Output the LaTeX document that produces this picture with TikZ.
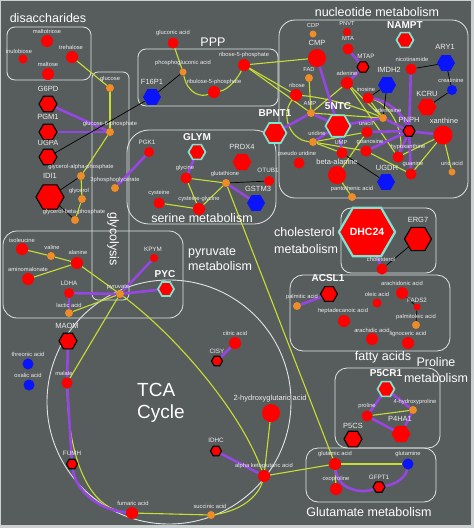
\documentclass[tikz,border=0pt]{standalone}
\usepackage{fontspec}
\setmainfont{Liberation Sans}
\usetikzlibrary{shapes.geometric}
\pgfdeclarelayer{bg}
\pgfdeclarelayer{edges}
\pgfsetlayers{bg,edges,main}
\definecolor{bgdark}{RGB}{87,92,92}
\definecolor{framegrey}{RGB}{205,208,208}
\definecolor{nred}{RGB}{255,0,0}
\definecolor{norange}{RGB}{238,140,40}
\definecolor{nblue}{RGB}{10,20,250}
\definecolor{eyel}{RGB}{200,222,50}
\definecolor{epur}{RGB}{150,70,225}
\definecolor{ncyan}{RGB}{125,230,210}
\definecolor{boxc}{RGB}{225,228,228}
\definecolor{txt}{RGB}{238,238,238}
\tikzset{
  rc/.style={circle, fill=nred, inner sep=0pt, minimum size=#1}, rc/.default=11,
  oc/.style={circle, fill=norange, inner sep=0pt, minimum size=#1}, oc/.default=8,
  bc/.style={circle, fill=nblue, inner sep=0pt, minimum size=#1}, bc/.default=11,
  hx/.style={regular polygon, regular polygon sides=6, inner sep=0pt, minimum size=#1},
  hred/.style={hx=#1, fill=nred},
  hblk/.style={hx=#1, fill=nred, draw=black, line width=1.1pt},
  hcy/.style={hx=#1, fill=nred, draw=ncyan, line width=1.7pt},
  hblu/.style={hx=#1, fill=nblue},
  sl/.style={text=txt, inner sep=0pt, font=\fontsize{5.8}{6}\selectfont},
  el/.style={text=txt, inner sep=0pt, font=\fontsize{6.3}{7}\selectfont},
  ml/.style={text=txt, inner sep=0pt, font=\fontsize{7.5}{8}\selectfont},
  bl/.style={text=white, inner sep=0pt, font=\bfseries\fontsize{10}{11}\selectfont},
  rl/.style={text=white, inner sep=0pt, font=\fontsize{12.5}{15.5}\selectfont},
  regbox/.style={draw=boxc, line width=0.8pt, rounded corners=#1},
  ye/.style={draw=eyel, line width=1.1pt},
  pu/.style={draw=epur, line width=2.6pt},
  bk/.style={draw=black, line width=0.7pt},
}
\begin{document}
\begin{tikzpicture}[x=1pt,y=-1pt]
\useasboundingbox (0,0) rectangle (474,528);
\begin{pgfonlayer}{bg}
\fill[framegrey] (0,0) rectangle (474,528);
\fill[bgdark] (1,1) rectangle (471,525);
\draw[regbox=8pt] (7,27) rectangle (91,80);
\draw[regbox=6pt] (92,72) rectangle (129,300);
\draw[regbox=8pt] (138,49) rectangle (278,106);
\draw[regbox=16pt] (279,20) rectangle (468,198);
\draw[regbox=22pt] (127,130) rectangle (276,224);
\draw[regbox=14pt] (3,231) rectangle (183,318);
\draw[regbox=10pt] (341,208) rectangle (436,273);
\draw[regbox=13pt] (290,275) rectangle (450,351);
\draw[regbox=12pt] (335,368) rectangle (440,448);
\draw[regbox=12pt] (306,448) rectangle (436,502);
\draw[draw=boxc, line width=0.9pt] (169,402) circle[radius=122pt];
\end{pgfonlayer}

% disaccharides
\node[rl] (l-disacch) at (48,18) {disaccharides};
\node[rc=12] (maltotriose) at (47,41) {};
\node[sl] (l-maltotriose) at (47,31) {maltotriose};
\node[rc=9] (inulobiose) at (23,59) {};
\node[sl] (l-inulobiose) at (19,51) {inulobiose};
\node[rc=12] (trehalose) at (72,57) {};
\node[sl] (l-trehalose) at (71,47) {trehalose};
\node[rc=12] (maltose) at (48,74) {};
\node[sl] (l-maltose) at (48,64) {maltose};

% glycolysis
\node[oc] (glucose) at (110,88) {};
\node[sl] (l-glucose) at (110,79) {glucose};
\node[oc] (gsix) at (110,132) {};
\node[sl] (l-gsix) at (110,124) {glucose-6-phosphate};
\node[hblk=18] (gsixpd) at (48,104) {};
\node[ml] (l-gsixpd) at (48,89) {G6PD};
\node[hblk=18] (pgmone) at (48,132) {};
\node[ml] (l-pgmone) at (48,117) {PGM1};
\node[hblk=18] (ugpa) at (48,157) {};
\node[ml] (l-ugpa) at (48,143) {UGPA};
\node[hblk=28] (idione) at (50,197) {};
\node[ml] (l-idione) at (50,176) {IDI1};
\node[oc] (gap) at (81,176) {};
\node[sl] (l-gap) at (81,167) {glycerol-alpha-phosphate};
\node[oc] (glycerol) at (82,199) {};
\node[sl] (l-glycerol) at (79,191) {glycerol};
\node[oc] (gbp) at (75,220) {};
\node[sl] (l-gbp) at (74,212) {glycerol-beta-phosphate};
\node[oc] (tpg) at (115,188) {};
\node[sl] (l-tpg) at (115,180) {3phosphoglycerate};
\node[rc=10] (pgkone) at (149,152) {};
\node[el] (l-pgkone) at (147,142) {PGK1};
\node[rl, rotate=-90] (l-glycolysis) at (113,239) {glycolysis};

% PPP
\node[rl] (l-ppp) at (213,42) {PPP};
\node[rc=11] (gluconic) at (173,43) {};
\node[sl] (l-gluconic) at (173,33) {gluconic acid};
\node[oc=7] (pgluc) at (183,72) {};
\node[sl] (l-pgluc) at (183,63) {phosphogluconic acid};
\node[hblu=18] (fonesix) at (152,97) {};
\node[ml] (l-fonesix) at (152,82) {F16P1};
\node[rc=12] (ribulose) at (214,92) {};
\node[sl] (l-ribulose) at (214,82) {ribulose-5-phosphate};
\node[rc=12] (rfivep) at (244,65) {};
\node[sl] (l-rfivep) at (244,55) {ribose-5-phosphate};

% serine
\node[hcy=17] (glym) at (197,152) {};
\node[bl] (l-glym) at (197,137) {GLYM};
\node[hred=19] (prdx) at (242,162) {};
\node[ml] (l-prdx) at (242,147) {PRDX4};
\node[rc=11] (glycine) at (186,178) {};
\node[sl] (l-glycine) at (185,168) {glycine};
\node[oc] (gsh) at (226,183) {};
\node[sl] (l-gsh) at (225,174) {glutathione};
\node[rc=10] (otub) at (269,181) {};
\node[el] (l-otub) at (268,170) {OTUB1};
\node[hblu=18] (gstm) at (256,203) {};
\node[ml] (l-gstm) at (258,189) {GSTM3};
\node[rc=11] (cysteine) at (159,203) {};
\node[sl] (l-cysteine) at (159,193) {cysteine};
\node[rc=12] (cysgly) at (199,209) {};
\node[sl] (l-cysgly) at (199,199) {cysteine-glycine};
\node[rl] (l-serine) at (202,218) {serine metabolism};

% nucleotide
\node[rl] (l-nucleo) at (377,12) {nucleotide metabolism};
\node[oc=7] (cdp) at (313,34) {};
\node[sl] (l-cdp) at (313,26) {CDP};
\node[rc=8] (pnvt) at (347,32) {};
\node[sl] (l-pnvt) at (347,24) {PNVT};
\node[rc=11] (mta) at (348,49) {};
\node[sl] (l-mta) at (348,39) {MTA};
\node[rc=18] (cmp) at (317,58) {};
\node[ml] (l-cmp) at (317,43) {CMP};
\node[hcy=17] (nampt) at (405,40) {};
\node[bl] (l-nampt) at (405,25) {NAMPT};
\node[hblk=12] (mtap) at (363,67) {};
\node[el] (l-mtap) at (366,56) {MTAP};
\node[hblu=18] (aryone) at (446,63) {};
\node[ml] (l-aryone) at (445,47) {ARY1};
\node[rc=11] (nicotin) at (411,69) {};
\node[sl] (l-nicotin) at (412,59) {nicotinamide};
\node[oc] (fad) at (309,78) {};
\node[sl] (l-fad) at (309,70) {FAD};
\node[rc=12] (adenine) at (347,83) {};
\node[sl] (l-adenine) at (347,73) {adenine};
\node[hblu=18] (imdh) at (387,85) {};
\node[ml] (l-imdh) at (389,70) {IMDH2};
\node[bc=10] (creat) at (452,90) {};
\node[sl] (l-creat) at (451,80) {creatinine};
\node[rc=12] (ribose) at (296,95) {};
\node[sl] (l-ribose) at (297,85) {ribose};
\node[rc=11] (inosine) at (368,98) {};
\node[sl] (l-inosine) at (366,89) {inosine};
\node[hred=19] (kcru) at (427,107) {};
\node[ml] (l-kcru) at (427,94) {KCRU};
\node[oc] (amp) at (311,113) {};
\node[sl] (l-amp) at (310,104) {AMP};
\node[hcy=25] (fntc) at (338,126) {};
\node[bl] (l-fntc) at (338,106) {5NTC};
\node[oc] (adenosine) at (383,118) {};
\node[sl] (l-adenosine) at (388,110) {adenosine};
\node[hblk=12] (pnph) at (409,131) {};
\node[ml] (l-pnph) at (409,120) {PNPH};
\node[rc=19] (xanthine) at (443,135) {};
\node[ml] (l-xanthine) at (444,121) {xanthine};
\node[rc=11] (uracil) at (367,132) {};
\node[sl] (l-uracil) at (366,123) {uracil};
\node[oc] (uridine) at (313,142) {};
\node[sl] (l-uridine) at (317,133) {uridine};
\node[rc=11] (ump) at (342,153) {};
\node[sl] (l-ump) at (341,143) {UMP};
\node[rc=11] (guanosine) at (366,151) {};
\node[sl] (l-guanosine) at (370,142) {guanosine};
\node[rc=11] (hypox) at (398,157) {};
\node[sl] (l-hypox) at (408,147) {hypoxanthine};
\node[rc=11] (pseudou) at (299,163) {};
\node[sl] (l-pseudou) at (297,154) {pseudo uridine};
\node[rc=18] (betaala) at (337,175) {};
\node[ml] (l-betaala) at (337,162) {beta-alanine};
\node[hblu=18] (ugdh) at (386,182) {};
\node[ml] (l-ugdh) at (387,168) {UGDH};
\node[rc=11] (guanine) at (411,174) {};
\node[sl] (l-guanine) at (413,164) {guanine};
\node[oc=7] (uric) at (452,172) {};
\node[sl] (l-uric) at (452,163) {uric acid};
\node[oc] (panto) at (352,197) {};
\node[sl] (l-panto) at (352,189) {pantothenic acid};
\node[hcy=23] (bpnt) at (275,133) {};
\node[bl] (l-bpnt) at (275,113) {BPNT1};

% cholesterol
\node[rl, align=left, anchor=west, font=\fontsize{12.5}{17}\selectfont] (l-cholmet) at (274,241) {cholesterol\\metabolism};
\node[hcy=46, line width=2.2pt, text=white, font=\bfseries\fontsize{10.5}{11}\selectfont] (dhc) at (367,232) {DHC24};
\node[hblk=27] (ergseven) at (418,239) {};
\node[ml] (l-ergseven) at (418,220) {ERG7};
\node[rc=11] (chol) at (382,269) {};
\node[sl] (l-chol) at (381,259) {cholesterol};

% fatty acids
\node[hblk=17] (acsl) at (329,294) {};
\node[bl] (l-acsl) at (328,278) {ACSL1};
\node[oc] (palmitic) at (297,306) {};
\node[sl] (l-palmitic) at (302,297) {palmitic acid};
\node[rc=12] (arachidonic) at (402,293) {};
\node[sl] (l-arachidonic) at (402,283) {arachidonic acid};
\node[rc=9] (oleic) at (377,303) {};
\node[sl] (l-oleic) at (377,294) {oleic acid};
\node[rc=7] (fads) at (417,307) {};
\node[el] (l-fads) at (417,300) {FADS2};
\node[oc] (palmitoleic) at (416,325) {};
\node[sl] (l-palmitoleic) at (416,317) {palmitoleic acid};
\node[rc=12] (heptadec) at (344,321) {};
\node[sl] (l-heptadec) at (343,311) {heptadecanoic acid};
\node[rc=12] (arachidic) at (372,339) {};
\node[sl] (l-arachidic) at (372,330) {arachidic acid};
\node[rc=12] (lignoceric) at (408,343) {};
\node[sl] (l-lignoceric) at (408,334) {lignoceric acid};
\node[rl] (l-fatty) at (383,357) {fatty acids};

% pyruvate
\node[rl, align=left, anchor=west] (l-pyrmet) at (188,259) {pyruvate\\metabolism};
\node[rc=12] (isoleucine) at (22,249) {};
\node[sl] (l-isoleucine) at (22,240) {isoleucine};
\node[oc] (valine) at (51,256) {};
\node[sl] (l-valine) at (52,247) {valine};
\node[rc=12] (alanine) at (77,263) {};
\node[sl] (l-alanine) at (78,252) {alanine};
\node[rc=12] (aminomal) at (28,279) {};
\node[sl] (l-aminomal) at (28,269) {aminomalonate};
\node[rc=10] (ldha) at (69,293) {};
\node[el] (l-ldha) at (69,283) {LDHA};
\node[oc] (lactic) at (69,313) {};
\node[sl] (l-lactic) at (69,305) {lactic acid};
\node[oc] (pyruvate) at (120,294) {};
\node[sl] (l-pyruvate) at (118,287) {pyruvate};
\node[rc=8] (kpym) at (154,258) {};
\node[el] (l-kpym) at (153,249) {KPYM};
\node[hcy=16] (pyc) at (166,289) {};
\node[bl] (l-pyc) at (165,274) {PYC};

% TCA
\node[text=white, inner sep=0pt, align=left, anchor=west, font=\fontsize{19}{22}\selectfont] (l-tca) at (137,403) {TCA\\Cycle};
\node[hblk=18] (maom) at (68,341) {};
\node[ml] (l-maom) at (67,326) {MAOM};
\node[rc=11] (malate) at (67,383) {};
\node[sl] (l-malate) at (64,373) {malate};
\node[hblk=11] (fumh) at (72,464) {};
\node[el] (l-fumh) at (72,453) {FUMH};
\node[rc=12] (fumaric) at (132,513) {};
\node[sl] (l-fumaric) at (133,503) {fumaric acid};
\node[oc] (succinic) at (211,515) {};
\node[sl] (l-succinic) at (210,506) {succinic acid};
\node[rc=12] (akg) at (264,476) {};
\node[sl] (l-akg) at (264,466) {alpha ketoglutaric acid};
\node[rc=18] (twohg) at (271,413) {};
\node[ml] (l-twohg) at (270,399) {2-hydroxyglutaric acid};
\node[hblk=11] (idhc) at (216,451) {};
\node[el] (l-idhc) at (216,440) {IDHC};
\node[hblk=11] (cisy) at (217,361) {};
\node[el] (l-cisy) at (217,351) {CISY};
\node[rc=12] (citric) at (235,343) {};
\node[sl] (l-citric) at (235,333) {citric acid};
\node[bc=11] (threonic) at (28,364) {};
\node[sl] (l-threonic) at (28,354) {threonic acid};
\node[bc=11] (oxalic) at (29,385) {};
\node[sl] (l-oxalic) at (28,375) {oxalic acid};

% proline
\node[rl, align=center] (l-promet) at (436,370) {Proline\\metabolism};
\node[hcy=17] (pfivecr) at (386,389) {};
\node[bl] (l-pfivecr) at (386,373) {P5CR1};
\node[oc] (hyp) at (413,410) {};
\node[sl] (l-hyp) at (415,402) {4-hydroxyproline};
\node[rc=11] (proline) at (367,416) {};
\node[sl] (l-proline) at (367,406) {proline};
\node[hred=19] (pfourha) at (401,434) {};
\node[ml] (l-pfourha) at (400,419) {P4HA1};
\node[hblk=18] (pfivecs) at (353,439) {};
\node[ml] (l-pfivecs) at (353,426) {P5CS};

% glutamate
\node[rc=12] (glutamic) at (335,464) {};
\node[sl] (l-glutamic) at (335,454) {glutamic acid};
\node[bc=11] (glutamine) at (408,464) {};
\node[sl] (l-glutamine) at (408,454) {glutamine};
\node[rc=12] (oxopro) at (336,489) {};
\node[sl] (l-oxopro) at (336,479) {oxoproline};
\node[hblk=12] (gfpt) at (379,487) {};
\node[el] (l-gfpt) at (379,477) {GFPT1};
\node[rl] (l-glutmet) at (369,512) {Glutamate metabolism};

\begin{pgfonlayer}{edges}
% yellow
\draw[ye] (trehalose) -- (glucose);
\draw[ye] (glucose) -- (gsix);
\draw[ye] (gsix) -- (gap);
\draw[ye] (gap) -- (glycerol);
\draw[ye] (glycerol) -- (gbp);
\draw[ye] (gluconic) -- (pgluc);
\draw[ye] (pgluc) .. controls (188,95) and (202,97) .. (ribulose);
\draw[ye] (ribulose) .. controls (228,90) and (238,78) .. (rfivep);
\draw[ye] (rfivep) -- (cmp);
\draw[ye] (rfivep) -- (ribose);
\draw[ye] (rfivep) -- (amp);
\draw[ye] (glycine) -- (gsh);
\draw[ye] (glycine) -- (cysgly);
\draw[ye] (cysteine) -- (cysgly);
\draw[ye] (cysgly) -- (gsh);
\draw[ye] (gsh) -- (glutamic);
\draw[ye] (isoleucine) -- (valine);
\draw[ye] (valine) -- (alanine);
\draw[ye] (aminomal) -- (alanine);
\draw[ye] (alanine) -- (pyruvate);
\draw[ye] (lactic) -- (pyruvate);
\draw[ye] (pyruvate) -- (malate);
\draw[ye] (pyruvate) .. controls (175,335) and (240,410) .. (akg);
\draw[ye] (malate) .. controls (68,450) and (85,508) .. (fumaric);
\draw[ye] (fumaric) -- (succinic);
\draw[ye] (succinic) .. controls (240,511) and (258,497) .. (akg);
\draw[ye] (akg) -- (twohg);
\draw[ye] (akg) -- (glutamic);
\draw[ye] (glutamic) -- (glutamine);
\draw[ye] (glutamic) -- (oxopro);
\draw[ye] (proline) -- (hyp);
\draw[ye] (fad) -- (amp);
\draw[ye] (adenine) -- (amp);
\draw[ye] (adenine) -- (adenosine);
\draw[ye] (adenine) -- (hypox);
\draw[ye] (amp) -- (adenosine);
\draw[ye] (ribose) .. controls (330,98) and (360,108) .. (adenosine);
\draw[ye] (ribose) .. controls (280,115) and (290,140) .. (uridine);
\draw[ye] (inosine) -- (adenosine);
\draw[ye] (inosine) .. controls (392,105) and (405,135) .. (hypox);
\draw[ye] (uridine) -- (uracil);
\draw[ye] (uridine) -- (ump);
\draw[ye] (uridine) -- (guanosine);
\draw[ye] (uracil) -- (betaala);
\draw[ye] (guanosine) -- (guanine);
\draw[ye] (hypox) -- (xanthine);
\draw[ye] (guanine) -- (xanthine);
\draw[ye] (xanthine) -- (uric);
\draw[ye] (betaala) -- (panto);
% purple
\draw[pu] (gsixpd) -- (gsix);
\draw[pu] (pgmone) -- (gsix);
\draw[pu] (pgkone) -- (tpg);
\draw[pu] (glym) -- (glycine);
\draw[pu] (gsh) -- (gstm);
\draw[pu] (kpym) -- (pyruvate);
\draw[pu] (ldha) -- (pyruvate);
\draw[pu] (ldha) -- (lactic);
\draw[pu] (pyruvate) -- (pyc);
\draw[pu] (maom) -- (malate);
\draw[pu] (malate) -- (fumh);
\draw[pu] (fumh) .. controls (76,492) and (100,510) .. (fumaric);
\draw[pu] (idhc) -- (akg);
\draw[pu] (cisy) -- (citric);
\draw[pu] (acsl) -- (palmitic);
\draw[pu] (dhc) -- (chol);
\draw[pu] (pfivecr) -- (proline);
\draw[pu] (pfivecr) -- (hyp);
\draw[pu] (proline) -- (pfourha);
\draw[pu] (pfourha) -- (hyp);
\draw[pu] (glutamic) .. controls (338,490) and (362,494) .. (gfpt);
\draw[pu] (gfpt) .. controls (398,484) and (406,476) .. (glutamine);
\draw[pu] (bpnt) -- (amp);
\draw[pu] (fntc) -- (amp);
\draw[pu] (fntc) -- (cmp);
\draw[pu] (fntc) -- (ump);
\draw[pu] (fntc) -- (uridine);
\draw[pu] (fntc) -- (adenosine);
\draw[pu] (adenosine) -- (pnph);
\draw[pu] (inosine) .. controls (385,100) and (402,112) .. (pnph);
\draw[pu] (pnph) -- (uracil);
\draw[pu] (pnph) -- (hypox);
\draw[pu] (pnph) -- (guanine);
\draw[pu] (pnph) -- (xanthine);
\draw[pu] (pnph) -- (nicotin);
\draw[pu] (pnph) -- (guanosine);
\draw[pu] (mta) -- (mtap);
\draw[pu] (mtap) -- (adenine);
% black
\draw[bk] (ugpa) -- (fonesix);
\draw[bk] (fonesix) -- (pgluc);
\draw[bk] (idione) -- (gap);
\draw[bk] (idione) -- (gbp);
\draw[bk] (gsh) -- (otub);
\draw[bk] (nicotin) -- (aryone);
\draw[bk] (aryone) -- (creat);
\draw[bk] (kcru) -- (creat);
\draw[bk] (imdh) -- (inosine);
\draw[bk] (imdh) -- (adenosine);
\draw[bk] (ump) -- (ugdh);
\draw[bk] (ergseven) -- (chol);
\draw[bk] (fads) -- (arachidonic);
\draw[bk] (fads) -- (palmitoleic);
\end{pgfonlayer}
\end{tikzpicture}
\end{document}
